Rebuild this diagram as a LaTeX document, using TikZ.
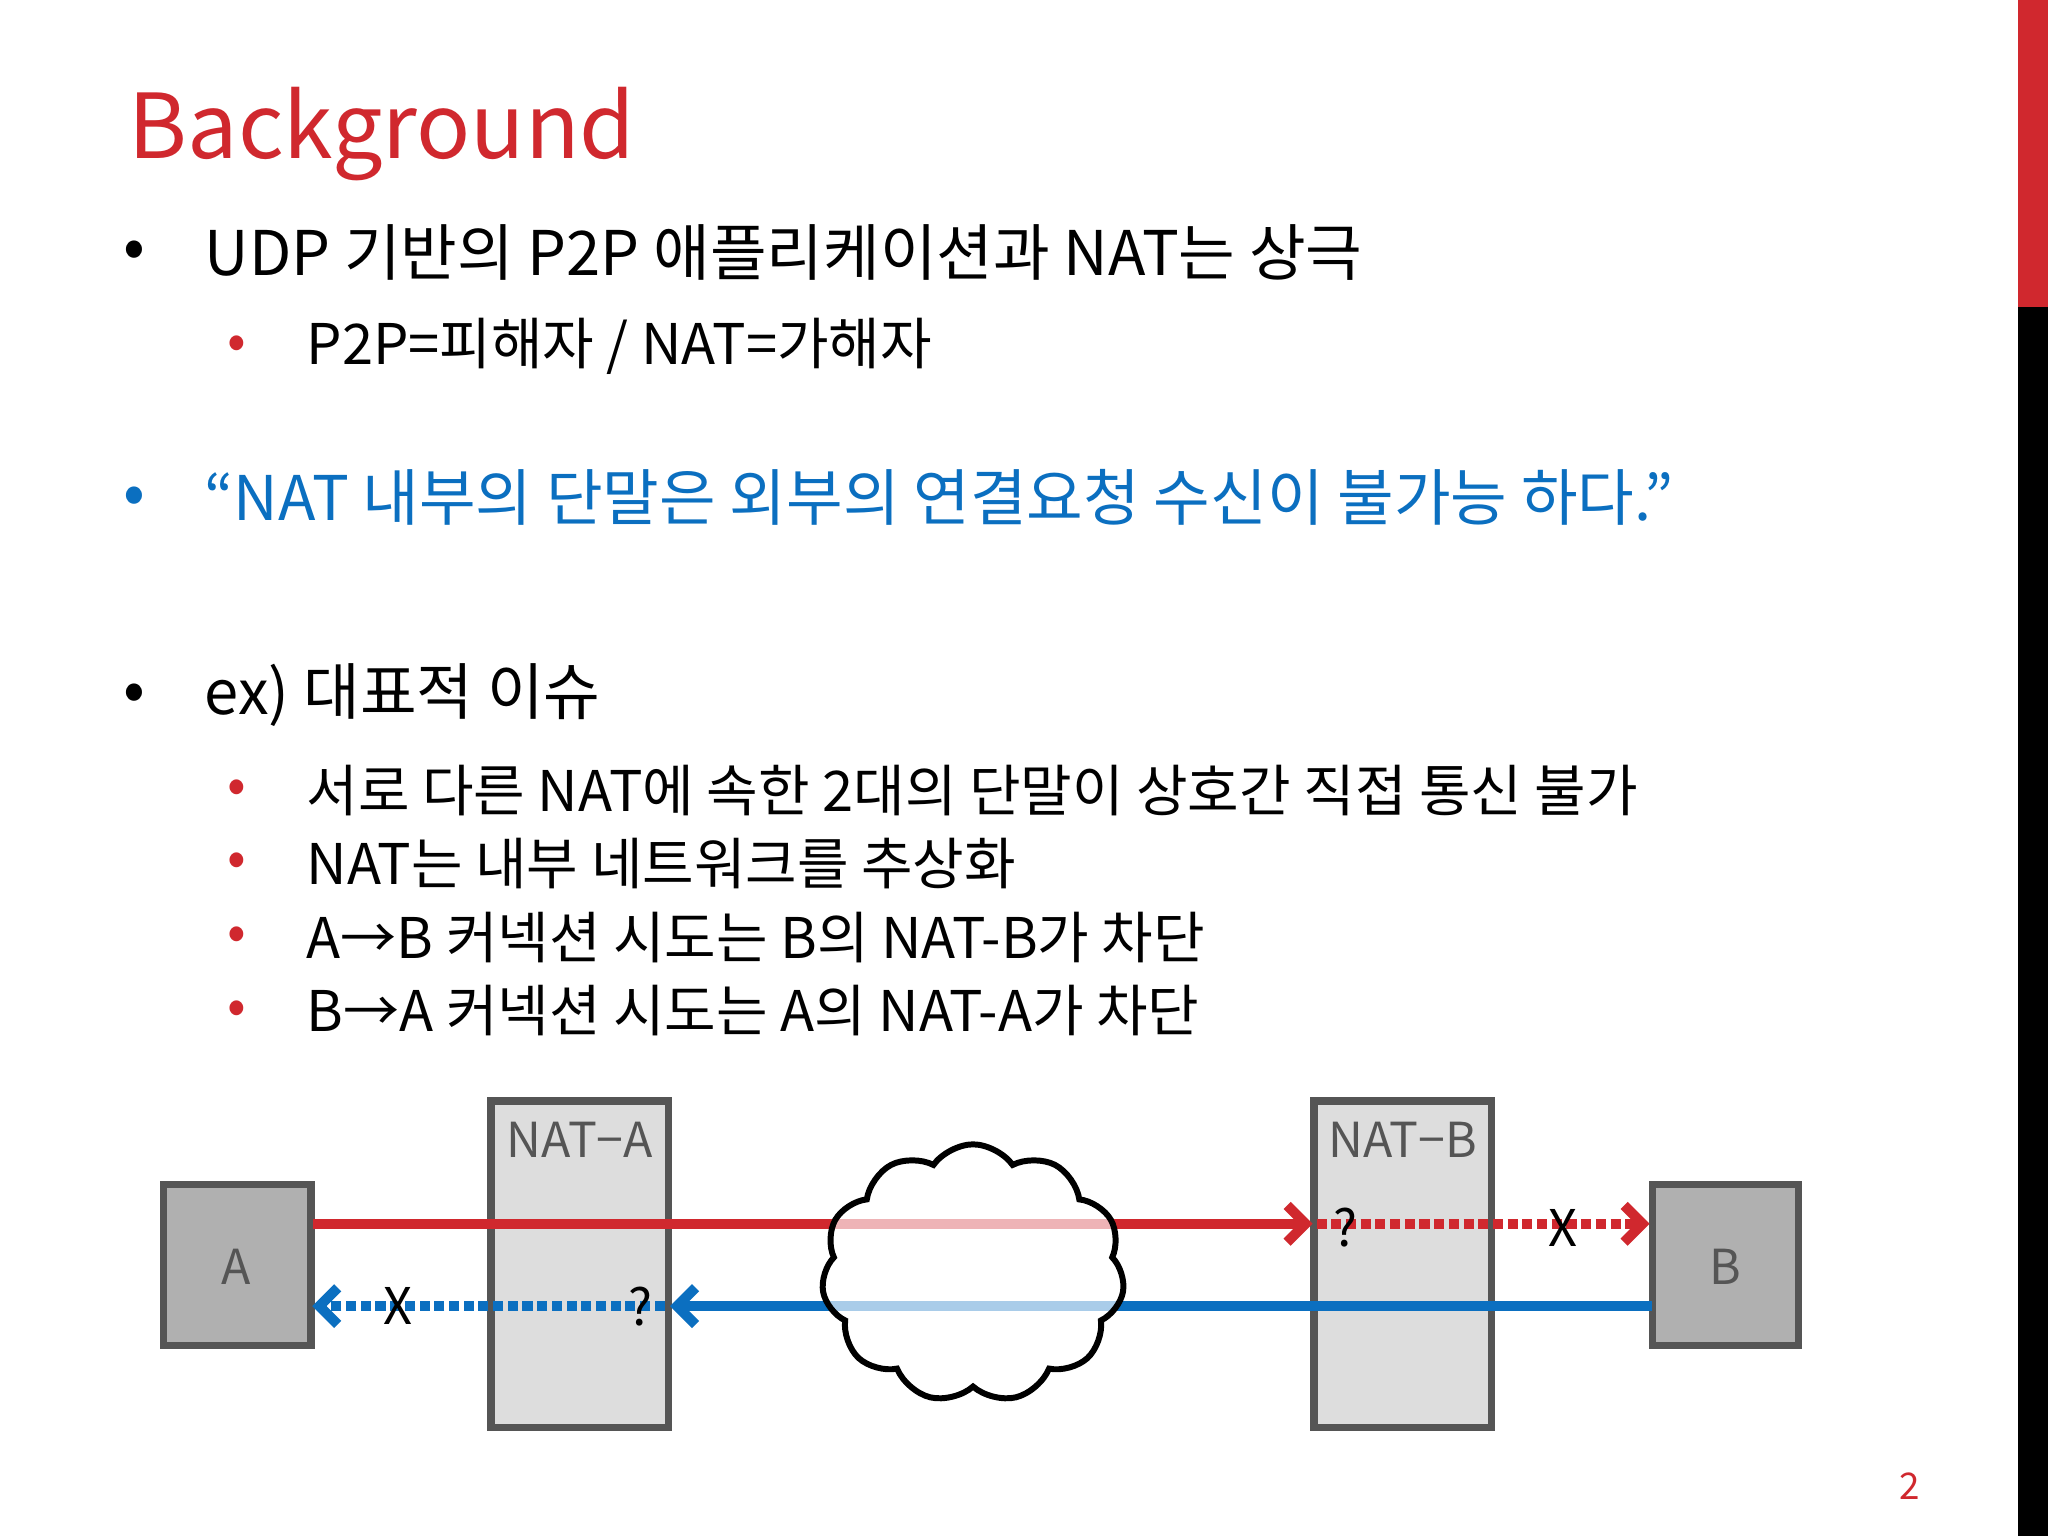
\documentclass[tikz,border=0pt]{standalone}
\usepackage{fontspec}
\setmainfont{Noto Sans CJK KR}
\usetikzlibrary{shapes.symbols,arrows.meta}
\definecolor{tred}{HTML}{D0282E}
\definecolor{tblue}{HTML}{0B6FC0}
\definecolor{bord}{HTML}{555555}
\begin{document}
\begin{tikzpicture}[x=0.01cm,y=-0.01cm,
  main/.style={anchor=west,inner sep=0pt,font=\fontsize{13.4}{16}\selectfont},
  sub/.style={anchor=west,inner sep=0pt,font=\fontsize{12.2}{14}\selectfont},
  bul/.style={font=\fontsize{14}{14}\selectfont},
  rbul/.style={text=tred,font=\fontsize{12}{12}\selectfont},
  host/.style={draw=bord,line width=1.6pt,fill=gray!62},
  nat/.style={draw=bord,line width=1.6pt,fill=gray!27},
  lbl/.style={text=bord,font=\fontsize{10.5}{12}\selectfont},
  arr/.style={-{Straight Barb[length=4pt,width=8pt]}}]
\useasboundingbox (0,0) rectangle (1568,1176);
\fill[white] (0,0) rectangle (1568,1176);
\fill[tred] (1545,0) rectangle (1568,235);
\fill[black] (1545,235) rectangle (1568,1176);
\node[anchor=west,inner sep=0pt,text=tred,font=\fontsize{19.5}{24}\selectfont] (title) at (98,103) {Background};
\node[bul] (b1) at (103,195) {•};
\node[main] (t1) at (156,193) {UDP 기반의 P2P 애플리케이션과 NAT는 상극};
\node[rbul] (s1b) at (181,266) {•};
\node[sub] (s1) at (234,265) {P2P=피해자 / NAT=가해자};
\node[bul,text=tblue] (b2) at (103,383) {•};
\node[main,text=tblue] (t2) at (156,381) {“NAT 내부의 단말은 외부의 연결요청 수신이 불가능 하다.”};
\node[bul] (b3) at (103,534) {•};
\node[main] (t3) at (156,532) {ex) 대표적 이슈};
\foreach \y/\t in {605/서로 다른 NAT에 속한 2대의 단말이 상호간 직접 통신 불가,661/NAT는 내부 네트워크를 추상화,718/A→B 커넥션 시도는 B의 NAT-B가 차단,774/B→A 커넥션 시도는 A의 NAT-A가 차단}{
  \node[rbul] at (181,\y+1) {•};
  \node[sub] at (234,\y) {\t};}
\draw[nat] (376,843) rectangle (512,1093);
\draw[nat] (1006,843) rectangle (1142,1093);
\draw[host] (125,907) rectangle (238,1030);
\draw[host] (1265,907) rectangle (1377,1030);
\node[lbl] (na) at (444,873) {NAT−A};
\node[lbl] (nb) at (1074,873) {NAT−B};
\node[lbl] (A) at (181,970) {A};
\node[lbl] (B) at (1321,970) {B};
\coordinate (r1) at (240,937); \coordinate (r2) at (1005,937); \coordinate (r3) at (1263,937);
\coordinate (l1) at (1265,1000); \coordinate (l2) at (513,1000); \coordinate (l3) at (239,1000);
\draw[tred,line width=2.2pt,arr] (r1) -- (r2);
\draw[tred,line width=2.2pt,densely dotted,arr] (1008,937) -- (r3);
\draw[tblue,line width=2.2pt,arr] (l1) -- (l2);
\draw[tblue,line width=2.2pt,densely dotted,arr] (509,1000) -- (l3);
\node[cloud,cloud puffs=11,cloud puff arc=110,aspect=1.15,minimum width=6.1cm,minimum height=5.2cm,draw=black,line width=1.3pt,fill=white,fill opacity=0.65,scale=0.38] (cl) at (745,975) {};
\node[font=\fontsize{11}{12}\selectfont] at (1030,940) {?};
\node[font=\fontsize{11}{12}\selectfont] at (1197,940) {X};
\node[font=\fontsize{11}{12}\selectfont] at (490,1000) {?};
\node[font=\fontsize{11}{12}\selectfont] at (305,1000) {X};
\node[text=tred,font=\fontsize{8}{10}\selectfont] (pg) at (1462,1138) {2};
\end{tikzpicture}
\end{document}
